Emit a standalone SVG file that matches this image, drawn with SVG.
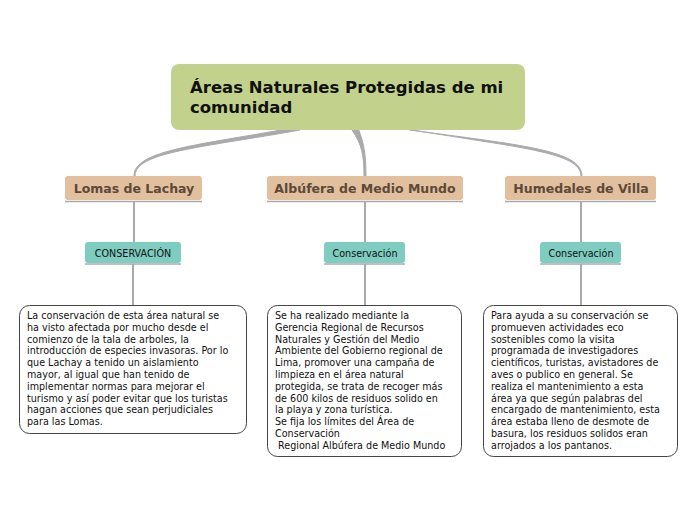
<svg xmlns="http://www.w3.org/2000/svg" width="696" height="520" viewBox="0 0 696 520">
<style>
.t{font-family:"DejaVu Sans",Verdana,sans-serif;font-size:9.6px;fill:#111}
.b{font-family:"DejaVu Sans",Verdana,sans-serif;font-weight:bold;font-size:12.5px;fill:#5b4a3b;text-anchor:middle}
.c{font-family:"DejaVu Sans",Verdana,sans-serif;font-size:9.6px;fill:#111;text-anchor:middle}
.br{fill:#e2bf9d}
.cs{fill:#7ecdc0}
.tx{fill:#fff;stroke:#444;stroke-width:1}
.ul{stroke:#aaa;stroke-width:1.5}
.ln{stroke:#555;stroke-width:1;fill:none}
.cv{fill:#aaa;stroke:#aaa;stroke-width:1}
</style>
<rect width="696" height="520" fill="#fff"/>
<g id="connectors">
<path class="cv" d="M292,128 C200,145 134,150 134,176 L135,176 C135,152 200,148 300,130 Z"/>
<path class="cv" d="M352,130 C362,145 364,155 364,176 L366,176 C366,155 364,143 358,128 Z"/>
<path class="cv" d="M400,128 C520,148 581,152 581,176 L582,176 C582,150 520,145 410,130 Z"/>
<path class="ln" d="M134,202 V242 M133,264 V305 M365,202 V242 M365,264 V305 M581,202 V242 M581,264 V305"/>
</g>
<g id="root">
<rect x="171" y="64" width="354" height="66" rx="8" fill="#c2d18c"/>
<text font-family="DejaVu Sans,Verdana,sans-serif" font-weight="bold" font-size="16.5" fill="#111"><tspan x="190" y="93">Áreas Naturales Protegidas de mi</tspan><tspan x="190" y="113">comunidad</tspan></text>
</g>
<g id="lomas"><rect class="br" x="65" y="176" width="137" height="24" rx="3"/><line class="ul" x1="65" y1="201.5" x2="202" y2="201.5"/><text class="b" x="134" y="193">Lomas de Lachay</text></g>
<g id="albufera"><rect class="br" x="267" y="176" width="196" height="24" rx="3"/><line class="ul" x1="267" y1="201.5" x2="463" y2="201.5"/><text class="b" x="365" y="193">Albúfera de Medio Mundo</text></g>
<g id="humedales"><rect class="br" x="505" y="176" width="151" height="24" rx="3"/><line class="ul" x1="505" y1="201.5" x2="656" y2="201.5"/><text class="b" x="581" y="193">Humedales de Villa</text></g>
<g id="cons1"><rect class="cs" x="85" y="242" width="96" height="21" rx="3"/><line class="ul" x1="85" y1="264" x2="181" y2="264"/><text class="c" x="133" y="257">CONSERVACIÓN</text></g>
<g id="cons2"><rect class="cs" x="324" y="242" width="81" height="21" rx="3"/><line class="ul" x1="324" y1="264" x2="405" y2="264"/><text class="c" x="365" y="257">Conservación</text></g>
<g id="cons3"><rect class="cs" x="540" y="242" width="81" height="21" rx="3"/><line class="ul" x1="540" y1="264" x2="621" y2="264"/><text class="c" x="581" y="257">Conservación</text></g>
<g id="text1"><rect class="tx" x="19.5" y="305.5" width="227" height="128" rx="10"/>
<text class="t"><tspan x="27" y="319">La conservación de esta área natural se</tspan><tspan x="27" y="330.8">ha visto afectada por mucho desde el</tspan><tspan x="27" y="342.6">comienzo de la tala de arboles, la</tspan><tspan x="27" y="354.4">introducción de especies invasoras. Por lo</tspan><tspan x="27" y="366.2">que Lachay a tenido un aislamiento</tspan><tspan x="27" y="378">mayor, al igual que han tenido de</tspan><tspan x="27" y="389.8">implementar normas para mejorar el</tspan><tspan x="27" y="401.6">turismo y así poder evitar que los turistas</tspan><tspan x="27" y="413.4">hagan acciones que sean perjudiciales</tspan><tspan x="27" y="425.2">para las Lomas.</tspan></text></g>
<g id="text2"><rect class="tx" x="267.5" y="305.5" width="194" height="151" rx="10"/>
<text class="t"><tspan x="275" y="319">Se ha realizado mediante la</tspan><tspan x="275" y="330.8">Gerencia Regional de Recursos</tspan><tspan x="275" y="342.6">Naturales y Gestión del Medio</tspan><tspan x="275" y="354.4">Ambiente del Gobierno regional de</tspan><tspan x="275" y="366.2">Lima, promover una campaña de</tspan><tspan x="275" y="378">limpieza en el área natural</tspan><tspan x="275" y="389.8">protegida, se trata de recoger más</tspan><tspan x="275" y="401.6">de 600 kilos de residuos solido en</tspan><tspan x="275" y="413.4">la playa y zona turística.</tspan><tspan x="275" y="425.2">Se fija  los límites del Área de</tspan><tspan x="275" y="437">Conservación</tspan><tspan x="275" y="448.8" xml:space="preserve"> Regional Albúfera de Medio Mundo</tspan></text></g>
<g id="text3"><rect class="tx" x="483.5" y="305.5" width="194" height="151" rx="10"/>
<text class="t"><tspan x="491" y="319">Para ayuda a su conservación se</tspan><tspan x="491" y="330.8">promueven actividades eco</tspan><tspan x="491" y="342.6">sostenibles como la visita</tspan><tspan x="491" y="354.4">programada de investigadores</tspan><tspan x="491" y="366.2">científicos, turistas, avistadores de</tspan><tspan x="491" y="378">aves o publico en general. Se</tspan><tspan x="491" y="389.8">realiza el mantenimiento a esta</tspan><tspan x="491" y="401.6">área ya que según palabras  del</tspan><tspan x="491" y="413.4">encargado de mantenimiento, esta</tspan><tspan x="491" y="425.2">área estaba lleno  de desmote de</tspan><tspan x="491" y="437">basura, los residuos solidos eran</tspan><tspan x="491" y="448.8">arrojados a los pantanos.</tspan></text></g>
</svg>
